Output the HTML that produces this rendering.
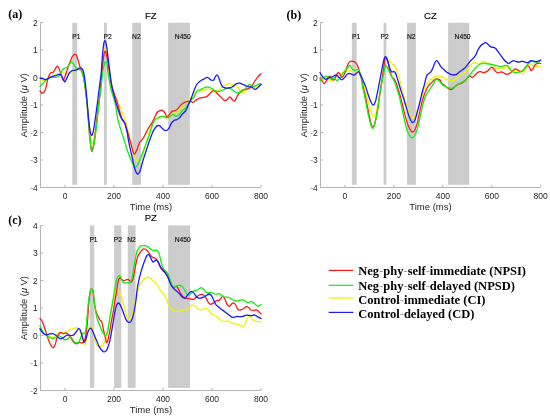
<!DOCTYPE html>
<html><head><meta charset="utf-8"><style>
html,body{margin:0;padding:0;background:#fff;}
body{width:550px;height:420px;overflow:hidden;}
svg{display:block;}
.tk{font-family:"Liberation Sans",Arial,sans-serif;font-size:8.5px;fill:#262626;}
.bl{font-family:"Liberation Sans",Arial,sans-serif;font-size:6.7px;fill:#111;stroke:#111;stroke-width:0.15px;}
.mn{fill:#8a8a8a;}
.ti{font-family:"Liberation Sans",Arial,sans-serif;font-size:9.6px;fill:#000;stroke:#000;stroke-width:0.1px;}
.al{font-family:"Liberation Sans",Arial,sans-serif;font-size:9px;fill:#262626;}
.pl{font-family:"Liberation Serif","Times New Roman",serif;font-size:12px;font-weight:bold;fill:#000;}
.lg{font-family:"Liberation Serif","Times New Roman",serif;font-size:12.5px;font-weight:bold;fill:#000;}
.hy{font-weight:normal;fill:#9a9a9a;}
</style></head><body>
<svg width="550" height="420" viewBox="0 0 550 420">
<rect width="550" height="420" fill="#fff"/>
<rect x="72.3" y="22.8" width="4.9" height="162" fill="#cccccc"/>
<rect x="104" y="22.8" width="2.8" height="162" fill="#cccccc"/>
<rect x="132.3" y="22.8" width="8.7" height="162" fill="#cccccc"/>
<rect x="168.1" y="22.8" width="21.7" height="162" fill="#cccccc"/>
<rect x="351.9" y="22.8" width="4.8" height="162" fill="#cccccc"/>
<rect x="383.6" y="22.8" width="2.7" height="162" fill="#cccccc"/>
<rect x="406.9" y="22.8" width="9" height="162" fill="#cccccc"/>
<rect x="448.1" y="22.8" width="21.2" height="162" fill="#cccccc"/>
<rect x="89.9" y="225.4" width="4.4" height="162.5" fill="#cccccc"/>
<rect x="114.2" y="225.4" width="7.1" height="162.5" fill="#cccccc"/>
<rect x="127.8" y="225.4" width="7.8" height="162.5" fill="#cccccc"/>
<rect x="168.1" y="225.4" width="22" height="162.5" fill="#cccccc"/>
<text x="72.3" y="39.2" class="bl">P1</text>
<text x="103.5" y="39.2" class="bl">P2</text>
<text x="132.1" y="39.2" class="bl">N2</text>
<text x="174.8" y="39.2" class="bl">N450</text>
<text x="352" y="39.2" class="bl">P1</text>
<text x="380.6" y="39.2" class="bl">P2</text>
<text x="407" y="39.2" class="bl">N2</text>
<text x="454.6" y="39.2" class="bl">N450</text>
<text x="89.4" y="241.7" class="bl">P1</text>
<text x="113.7" y="241.7" class="bl">P2</text>
<text x="127.2" y="241.7" class="bl">N2</text>
<text x="174.7" y="241.7" class="bl">N450</text>
<rect x="40" y="22.5" width="1" height="165.5" fill="#b4b4b4"/>
<rect x="40" y="187" width="221" height="1" fill="#b4b4b4"/>
<rect x="41" y="22" width="2.2" height="1" fill="#b4b4b4"/>
<text x="37.8" y="25.6" text-anchor="end" class="tk">2</text>
<rect x="41" y="49.5" width="2.2" height="1" fill="#b4b4b4"/>
<text x="37.8" y="53.1" text-anchor="end" class="tk">1</text>
<rect x="41" y="77" width="2.2" height="1" fill="#b4b4b4"/>
<text x="37.8" y="80.6" text-anchor="end" class="tk">0</text>
<rect x="41" y="104.5" width="2.2" height="1" fill="#b4b4b4"/>
<text x="37.8" y="108.1" text-anchor="end" class="tk"><tspan class="mn">-</tspan>1</text>
<rect x="41" y="132" width="2.2" height="1" fill="#b4b4b4"/>
<text x="37.8" y="135.6" text-anchor="end" class="tk"><tspan class="mn">-</tspan>2</text>
<rect x="41" y="159.5" width="2.2" height="1" fill="#b4b4b4"/>
<text x="37.8" y="163.1" text-anchor="end" class="tk"><tspan class="mn">-</tspan>3</text>
<rect x="41" y="187" width="2.2" height="1" fill="#b4b4b4"/>
<text x="37.8" y="190.6" text-anchor="end" class="tk"><tspan class="mn">-</tspan>4</text>
<rect x="64.5" y="184.8" width="1" height="2.2" fill="#b4b4b4"/>
<text x="65" y="198.6" text-anchor="middle" class="tk">0</text>
<rect x="113.5" y="184.8" width="1" height="2.2" fill="#b4b4b4"/>
<text x="114" y="198.6" text-anchor="middle" class="tk">200</text>
<rect x="162.5" y="184.8" width="1" height="2.2" fill="#b4b4b4"/>
<text x="163" y="198.6" text-anchor="middle" class="tk">400</text>
<rect x="211.5" y="184.8" width="1" height="2.2" fill="#b4b4b4"/>
<text x="212" y="198.6" text-anchor="middle" class="tk">600</text>
<rect x="260.5" y="184.8" width="1" height="2.2" fill="#b4b4b4"/>
<text x="261" y="198.6" text-anchor="middle" class="tk">800</text>
<rect x="320" y="22.5" width="1" height="165.5" fill="#b4b4b4"/>
<rect x="320" y="187" width="220.5" height="1" fill="#b4b4b4"/>
<rect x="321" y="22" width="2.2" height="1" fill="#b4b4b4"/>
<text x="317.8" y="25.6" text-anchor="end" class="tk">2</text>
<rect x="321" y="49.5" width="2.2" height="1" fill="#b4b4b4"/>
<text x="317.8" y="53.1" text-anchor="end" class="tk">1</text>
<rect x="321" y="77" width="2.2" height="1" fill="#b4b4b4"/>
<text x="317.8" y="80.6" text-anchor="end" class="tk">0</text>
<rect x="321" y="104.5" width="2.2" height="1" fill="#b4b4b4"/>
<text x="317.8" y="108.1" text-anchor="end" class="tk"><tspan class="mn">-</tspan>1</text>
<rect x="321" y="132" width="2.2" height="1" fill="#b4b4b4"/>
<text x="317.8" y="135.6" text-anchor="end" class="tk"><tspan class="mn">-</tspan>2</text>
<rect x="321" y="159.5" width="2.2" height="1" fill="#b4b4b4"/>
<text x="317.8" y="163.1" text-anchor="end" class="tk"><tspan class="mn">-</tspan>3</text>
<rect x="321" y="187" width="2.2" height="1" fill="#b4b4b4"/>
<text x="317.8" y="190.6" text-anchor="end" class="tk"><tspan class="mn">-</tspan>4</text>
<rect x="344.467" y="184.8" width="1" height="2.2" fill="#b4b4b4"/>
<text x="344.967" y="198.6" text-anchor="middle" class="tk">0</text>
<rect x="393.4" y="184.8" width="1" height="2.2" fill="#b4b4b4"/>
<text x="393.9" y="198.6" text-anchor="middle" class="tk">200</text>
<rect x="442.333" y="184.8" width="1" height="2.2" fill="#b4b4b4"/>
<text x="442.833" y="198.6" text-anchor="middle" class="tk">400</text>
<rect x="491.267" y="184.8" width="1" height="2.2" fill="#b4b4b4"/>
<text x="491.767" y="198.6" text-anchor="middle" class="tk">600</text>
<rect x="540.2" y="184.8" width="1" height="2.2" fill="#b4b4b4"/>
<text x="540.7" y="198.6" text-anchor="middle" class="tk">800</text>
<rect x="40" y="225.4" width="1" height="165.6" fill="#b4b4b4"/>
<rect x="40" y="390" width="221" height="1" fill="#b4b4b4"/>
<rect x="41" y="225" width="2.2" height="1" fill="#b4b4b4"/>
<text x="37.8" y="228.6" text-anchor="end" class="tk">4</text>
<rect x="41" y="252.5" width="2.2" height="1" fill="#b4b4b4"/>
<text x="37.8" y="256.1" text-anchor="end" class="tk">3</text>
<rect x="41" y="280" width="2.2" height="1" fill="#b4b4b4"/>
<text x="37.8" y="283.6" text-anchor="end" class="tk">2</text>
<rect x="41" y="307.5" width="2.2" height="1" fill="#b4b4b4"/>
<text x="37.8" y="311.1" text-anchor="end" class="tk">1</text>
<rect x="41" y="335" width="2.2" height="1" fill="#b4b4b4"/>
<text x="37.8" y="338.6" text-anchor="end" class="tk">0</text>
<rect x="41" y="362.5" width="2.2" height="1" fill="#b4b4b4"/>
<text x="37.8" y="366.1" text-anchor="end" class="tk"><tspan class="mn">-</tspan>1</text>
<rect x="41" y="390" width="2.2" height="1" fill="#b4b4b4"/>
<text x="37.8" y="393.6" text-anchor="end" class="tk"><tspan class="mn">-</tspan>2</text>
<rect x="64.5" y="387.8" width="1" height="2.2" fill="#b4b4b4"/>
<text x="65" y="401.6" text-anchor="middle" class="tk">0</text>
<rect x="113.5" y="387.8" width="1" height="2.2" fill="#b4b4b4"/>
<text x="114" y="401.6" text-anchor="middle" class="tk">200</text>
<rect x="162.5" y="387.8" width="1" height="2.2" fill="#b4b4b4"/>
<text x="163" y="401.6" text-anchor="middle" class="tk">400</text>
<rect x="211.5" y="387.8" width="1" height="2.2" fill="#b4b4b4"/>
<text x="212" y="401.6" text-anchor="middle" class="tk">600</text>
<rect x="260.5" y="387.8" width="1" height="2.2" fill="#b4b4b4"/>
<text x="261" y="401.6" text-anchor="middle" class="tk">800</text>
<g fill="none" stroke-width="1.3" stroke-linejoin="round" stroke-linecap="round"><path d="M40.00 80.90 C40.90 80.75 43.62 80.68 45.40 80.00 C47.18 79.32 48.92 77.75 50.70 76.80 C52.48 75.85 54.32 74.95 56.10 74.30 C57.88 73.65 59.62 72.99 61.40 72.90 C63.18 72.81 65.02 73.82 66.80 73.75 C68.58 73.68 70.62 73.09 72.10 72.50 C73.58 71.91 74.50 70.68 75.70 70.20 C76.90 69.72 78.25 69.30 79.30 69.60 C80.35 69.90 81.26 70.72 82.00 72.00 C82.74 73.28 83.17 74.63 83.75 77.30 C84.33 79.97 84.91 83.72 85.50 88.00 C86.09 92.28 86.68 96.83 87.30 103.00 C87.92 109.17 88.58 118.83 89.20 125.00 C89.82 131.17 90.52 136.85 91.00 140.00 C91.48 143.15 91.68 143.73 92.10 143.90 C92.52 144.07 92.93 143.65 93.50 141.00 C94.07 138.35 94.83 133.17 95.50 128.00 C96.17 122.83 96.83 116.00 97.50 110.00 C98.17 104.00 98.83 97.83 99.50 92.00 C100.17 86.17 100.88 80.67 101.50 75.00 C102.12 69.33 102.70 62.17 103.20 58.00 C103.70 53.83 104.15 51.60 104.50 50.00 C104.85 48.40 104.97 48.23 105.30 48.40 C105.63 48.57 106.05 48.73 106.50 51.00 C106.95 53.27 107.57 58.15 108.00 62.00 C108.43 65.85 108.60 70.43 109.10 74.10 C109.60 77.77 110.35 81.15 111.00 84.00 C111.65 86.85 112.03 88.40 113.00 91.20 C113.97 94.00 115.53 97.93 116.80 100.80 C118.07 103.67 119.50 105.87 120.60 108.40 C121.70 110.93 122.52 113.77 123.40 116.00 C124.28 118.23 125.03 119.05 125.90 121.80 C126.77 124.55 127.57 128.33 128.60 132.50 C129.63 136.67 130.92 142.33 132.10 146.80 C133.28 151.27 134.80 156.83 135.70 159.30 C136.60 161.77 136.75 161.67 137.50 161.60 C138.25 161.53 139.30 160.23 140.20 158.90 C141.10 157.57 142.02 155.98 142.90 153.60 C143.78 151.22 144.62 147.58 145.50 144.60 C146.38 141.62 147.30 138.52 148.20 135.70 C149.10 132.88 150.00 130.08 150.90 127.70 C151.80 125.32 152.71 122.89 153.60 121.40 C154.49 119.91 155.37 119.48 156.25 118.75 C157.13 118.02 157.86 117.44 158.90 117.00 C159.94 116.56 161.30 115.95 162.50 116.10 C163.70 116.25 165.06 117.75 166.10 117.90 C167.14 118.05 167.87 117.60 168.75 117.00 C169.63 116.40 170.36 115.00 171.40 114.30 C172.44 113.60 173.80 113.45 175.00 112.80 C176.20 112.15 177.37 111.50 178.60 110.40 C179.83 109.30 181.43 107.33 182.40 106.20 C183.37 105.07 183.62 104.60 184.40 103.60 C185.18 102.60 186.17 101.03 187.10 100.20 C188.03 99.37 189.00 99.38 190.00 98.60 C191.00 97.82 191.98 96.82 193.10 95.50 C194.22 94.18 195.50 91.65 196.70 90.70 C197.90 89.75 199.10 89.85 200.30 89.80 C201.50 89.75 202.72 90.55 203.90 90.40 C205.08 90.25 206.22 89.00 207.40 88.90 C208.58 88.80 209.80 89.35 211.00 89.80 C212.20 90.25 213.42 91.45 214.60 91.60 C215.78 91.75 216.92 91.45 218.10 90.70 C219.28 89.95 220.50 87.98 221.70 87.10 C222.90 86.22 224.10 85.98 225.30 85.40 C226.50 84.82 227.87 83.75 228.90 83.60 C229.93 83.45 230.62 84.20 231.50 84.50 C232.38 84.80 233.15 84.97 234.20 85.40 C235.25 85.83 236.75 86.07 237.80 87.10 C238.85 88.13 239.62 90.63 240.50 91.60 C241.38 92.57 242.22 93.05 243.10 92.90 C243.98 92.75 244.75 91.52 245.80 90.70 C246.85 89.88 248.20 88.65 249.40 88.00 C250.60 87.35 251.82 87.09 253.00 86.80 C254.18 86.51 255.47 86.48 256.50 86.25 C257.53 86.02 258.45 85.61 259.20 85.40 C259.95 85.19 260.70 85.07 261.00 85.00" stroke="#f2f200" />
<path d="M40.00 91.00 C40.38 91.38 41.40 93.55 42.30 93.30 C43.20 93.05 44.45 92.02 45.40 89.50 C46.35 86.98 47.12 80.97 48.00 78.20 C48.88 75.43 49.80 73.93 50.70 72.90 C51.60 71.87 52.50 72.90 53.40 72.00 C54.30 71.10 55.35 68.40 56.10 67.50 C56.85 66.60 57.32 66.15 57.90 66.60 C58.48 67.05 59.02 68.72 59.60 70.20 C60.18 71.68 60.80 73.82 61.40 75.50 C62.00 77.18 62.60 80.13 63.20 80.30 C63.80 80.47 64.40 78.03 65.00 76.50 C65.60 74.97 66.20 72.90 66.80 71.10 C67.40 69.30 68.00 67.33 68.60 65.70 C69.20 64.07 69.82 62.78 70.40 61.30 C70.98 59.82 71.37 58.00 72.10 56.80 C72.83 55.60 74.05 54.25 74.80 54.10 C75.55 53.95 76.00 54.70 76.60 55.90 C77.20 57.10 77.80 59.37 78.40 61.30 C79.00 63.23 79.60 65.72 80.20 67.50 C80.80 69.28 81.41 70.22 82.00 72.00 C82.59 73.78 83.17 75.20 83.75 78.20 C84.33 81.20 84.91 85.37 85.50 90.00 C86.09 94.63 86.80 100.67 87.30 106.00 C87.80 111.33 88.12 117.00 88.50 122.00 C88.88 127.00 89.22 132.00 89.60 136.00 C89.98 140.00 90.40 143.50 90.80 146.00 C91.20 148.50 91.42 151.77 92.00 151.00 C92.58 150.23 93.57 145.97 94.30 141.40 C95.03 136.83 95.60 130.15 96.40 123.60 C97.20 117.05 98.45 107.37 99.10 102.10 C99.75 96.83 99.90 96.02 100.30 92.00 C100.70 87.98 101.05 83.00 101.50 78.00 C101.95 73.00 102.55 66.08 103.00 62.00 C103.45 57.92 103.85 55.30 104.20 53.50 C104.55 51.70 104.78 51.28 105.10 51.20 C105.42 51.12 105.70 51.53 106.10 53.00 C106.50 54.47 106.97 56.83 107.50 60.00 C108.03 63.17 108.72 68.33 109.30 72.00 C109.88 75.67 110.38 79.00 111.00 82.00 C111.62 85.00 112.35 87.75 113.00 90.00 C113.65 92.25 114.27 93.70 114.90 95.50 C115.53 97.30 116.02 98.22 116.80 100.80 C117.58 103.38 118.68 107.80 119.60 111.00 C120.52 114.20 121.40 117.90 122.30 120.00 C123.20 122.10 124.10 121.52 125.00 123.60 C125.90 125.68 126.66 128.93 127.70 132.50 C128.74 136.07 130.22 141.43 131.25 145.00 C132.28 148.57 133.01 153.00 133.90 153.90 C134.79 154.80 135.70 152.18 136.60 150.40 C137.50 148.62 138.25 145.17 139.30 143.20 C140.35 141.23 141.87 140.15 142.90 138.60 C143.93 137.05 144.62 135.57 145.50 133.90 C146.38 132.23 147.15 130.38 148.20 128.60 C149.25 126.82 150.75 124.98 151.80 123.20 C152.85 121.42 153.62 119.68 154.50 117.90 C155.38 116.12 156.22 113.70 157.10 112.50 C157.98 111.30 158.90 111.05 159.80 110.70 C160.70 110.35 161.60 109.95 162.50 110.40 C163.40 110.85 164.45 112.30 165.20 113.40 C165.95 114.50 166.27 116.85 167.00 117.00 C167.73 117.15 168.72 115.28 169.60 114.30 C170.48 113.32 171.40 111.70 172.30 111.10 C173.20 110.50 174.10 111.07 175.00 110.70 C175.90 110.33 176.80 109.78 177.70 108.90 C178.60 108.02 179.37 106.43 180.40 105.40 C181.43 104.37 182.72 103.37 183.90 102.70 C185.08 102.03 186.32 101.60 187.50 101.40 C188.68 101.20 190.07 101.35 191.00 101.50 C191.93 101.65 192.15 102.62 193.10 102.30 C194.05 101.98 195.50 100.33 196.70 99.60 C197.90 98.87 199.10 98.25 200.30 97.90 C201.50 97.55 202.72 97.80 203.90 97.50 C205.08 97.20 206.22 96.93 207.40 96.10 C208.58 95.27 209.95 93.40 211.00 92.50 C212.05 91.60 212.80 90.70 213.70 90.70 C214.60 90.70 215.52 91.75 216.40 92.50 C217.28 93.25 218.12 94.30 219.00 95.20 C219.88 96.10 220.80 97.02 221.70 97.90 C222.60 98.78 223.50 100.22 224.40 100.50 C225.30 100.78 226.21 100.18 227.10 99.60 C227.99 99.02 228.87 97.00 229.75 97.00 C230.63 97.00 231.59 98.92 232.40 99.60 C233.21 100.28 233.85 101.53 234.60 101.10 C235.35 100.67 236.30 98.10 236.90 97.00 C237.50 95.90 237.48 95.47 238.20 94.50 C238.92 93.53 240.17 92.02 241.20 91.20 C242.23 90.38 243.23 90.03 244.40 89.60 C245.57 89.17 247.03 89.07 248.20 88.60 C249.37 88.13 250.33 87.98 251.40 86.80 C252.47 85.62 253.53 83.17 254.60 81.50 C255.67 79.83 256.73 78.12 257.80 76.80 C258.87 75.48 260.47 74.13 261.00 73.60" stroke="#ff1a1a" />
<path d="M40.00 86.25 C40.60 85.66 42.42 83.89 43.60 82.70 C44.78 81.51 45.92 80.00 47.10 79.10 C48.28 78.20 49.50 77.60 50.70 77.30 C51.90 77.00 53.10 77.38 54.30 77.30 C55.50 77.22 56.87 77.39 57.90 76.80 C58.93 76.21 59.77 74.85 60.50 73.75 C61.23 72.65 61.70 71.09 62.30 70.20 C62.90 69.31 63.35 68.85 64.10 68.40 C64.85 67.95 66.05 67.95 66.80 67.50 C67.55 67.05 68.00 66.45 68.60 65.70 C69.20 64.95 69.87 63.60 70.40 63.00 C70.93 62.40 71.22 61.80 71.80 62.10 C72.38 62.40 73.25 63.90 73.90 64.80 C74.55 65.70 74.95 66.90 75.70 67.50 C76.45 68.10 77.50 67.95 78.40 68.40 C79.30 68.85 80.35 69.17 81.10 70.20 C81.85 71.23 82.32 72.37 82.90 74.60 C83.48 76.83 84.02 79.72 84.60 83.60 C85.18 87.48 85.77 92.00 86.40 97.90 C87.03 103.80 87.77 111.98 88.40 119.00 C89.03 126.02 89.58 134.60 90.20 140.00 C90.82 145.40 91.32 151.63 92.10 151.40 C92.88 151.17 94.08 143.60 94.90 138.60 C95.72 133.60 96.30 127.48 97.00 121.40 C97.70 115.32 98.38 108.17 99.10 102.10 C99.82 96.03 100.68 90.02 101.30 85.00 C101.92 79.98 102.30 75.50 102.80 72.00 C103.30 68.50 103.82 65.72 104.30 64.00 C104.78 62.28 105.25 61.70 105.70 61.70 C106.15 61.70 106.58 61.93 107.00 64.00 C107.42 66.07 107.53 69.88 108.20 74.10 C108.87 78.32 110.05 85.17 111.00 89.30 C111.95 93.43 113.10 96.03 113.90 98.90 C114.70 101.77 115.18 103.32 115.80 106.50 C116.42 109.68 116.82 114.27 117.60 118.00 C118.38 121.73 119.57 125.73 120.50 128.90 C121.43 132.07 122.30 134.15 123.20 137.00 C124.10 139.85 125.00 143.17 125.90 146.00 C126.80 148.83 127.67 151.50 128.60 154.00 C129.53 156.50 130.52 158.92 131.50 161.00 C132.48 163.08 133.67 165.58 134.50 166.50 C135.33 167.42 135.85 167.02 136.50 166.50 C137.15 165.98 137.63 164.97 138.40 163.40 C139.17 161.83 140.21 159.33 141.10 157.10 C141.99 154.87 142.87 152.37 143.75 150.00 C144.63 147.63 145.51 145.28 146.40 142.90 C147.29 140.52 148.20 138.38 149.10 135.70 C150.00 133.02 150.90 129.33 151.80 126.80 C152.70 124.27 153.47 121.98 154.50 120.50 C155.53 119.02 156.82 118.58 158.00 117.90 C159.18 117.22 160.40 116.55 161.60 116.40 C162.80 116.25 164.15 116.75 165.20 117.00 C166.25 117.25 167.02 118.05 167.90 117.90 C168.78 117.75 169.62 116.70 170.50 116.10 C171.38 115.50 172.30 114.25 173.20 114.30 C174.10 114.35 174.85 116.37 175.90 116.40 C176.95 116.43 178.42 115.50 179.50 114.50 C180.58 113.50 181.57 111.28 182.40 110.40 C183.23 109.52 183.83 109.73 184.50 109.20 C185.17 108.67 185.65 108.22 186.40 107.20 C187.15 106.18 188.08 104.50 189.00 103.10 C189.92 101.70 191.07 99.73 191.90 98.80 C192.73 97.87 193.20 98.70 194.00 97.50 C194.80 96.30 195.65 92.88 196.70 91.60 C197.75 90.32 199.10 90.40 200.30 89.80 C201.50 89.20 202.72 88.50 203.90 88.00 C205.08 87.50 206.22 86.80 207.40 86.80 C208.58 86.80 209.80 87.35 211.00 88.00 C212.20 88.65 213.42 90.10 214.60 90.70 C215.78 91.30 216.92 91.60 218.10 91.60 C219.28 91.60 220.50 91.15 221.70 90.70 C222.90 90.25 224.10 89.35 225.30 88.90 C226.50 88.45 227.72 87.85 228.90 88.00 C230.08 88.15 231.22 89.05 232.40 89.80 C233.58 90.55 234.80 92.05 236.00 92.50 C237.20 92.95 238.42 92.80 239.60 92.50 C240.78 92.20 241.92 91.60 243.10 90.70 C244.28 89.80 245.65 88.13 246.70 87.10 C247.75 86.07 248.52 84.64 249.40 84.50 C250.28 84.36 251.11 85.96 252.00 86.25 C252.89 86.54 253.85 86.54 254.75 86.25 C255.65 85.96 256.36 84.94 257.40 84.50 C258.44 84.06 260.40 83.75 261.00 83.60" stroke="#12ee12" />
<path d="M40.00 78.20 C40.45 78.27 41.80 78.37 42.70 78.60 C43.60 78.83 44.37 79.67 45.40 79.60 C46.43 79.53 47.72 78.73 48.90 78.20 C50.08 77.67 51.30 76.85 52.50 76.40 C53.70 75.95 54.92 75.85 56.10 75.50 C57.28 75.15 58.72 74.30 59.60 74.30 C60.48 74.30 60.80 74.70 61.40 75.50 C62.00 76.30 62.68 78.05 63.20 79.10 C63.72 80.15 64.05 81.65 64.50 81.80 C64.95 81.95 65.37 80.90 65.90 80.00 C66.43 79.10 67.10 77.58 67.70 76.40 C68.30 75.22 68.77 73.85 69.50 72.90 C70.23 71.95 71.07 71.15 72.10 70.70 C73.13 70.25 74.65 70.50 75.70 70.20 C76.75 69.90 77.57 69.28 78.40 68.90 C79.23 68.52 80.02 67.83 80.70 67.90 C81.38 67.97 81.99 68.45 82.50 69.30 C83.01 70.15 83.30 70.88 83.75 73.00 C84.20 75.12 84.74 78.33 85.20 82.00 C85.66 85.67 86.10 90.67 86.50 95.00 C86.90 99.33 87.22 103.67 87.60 108.00 C87.98 112.33 88.38 117.17 88.80 121.00 C89.22 124.83 89.63 128.60 90.10 131.00 C90.57 133.40 91.10 135.22 91.60 135.40 C92.10 135.58 92.55 134.43 93.10 132.10 C93.65 129.77 94.25 125.68 94.90 121.40 C95.55 117.12 96.30 111.75 97.00 106.40 C97.70 101.05 98.42 94.68 99.10 89.30 C99.78 83.92 100.53 79.82 101.10 74.10 C101.67 68.38 102.05 60.08 102.50 55.00 C102.95 49.92 103.38 45.97 103.80 43.60 C104.22 41.23 104.55 40.48 105.00 40.80 C105.45 41.12 105.97 42.48 106.50 45.50 C107.03 48.52 107.60 54.13 108.20 58.90 C108.80 63.67 109.47 69.35 110.10 74.10 C110.73 78.85 111.20 83.27 112.00 87.40 C112.80 91.53 113.95 95.40 114.90 98.90 C115.85 102.40 116.93 105.88 117.70 108.40 C118.47 110.92 118.88 112.37 119.50 114.00 C120.12 115.63 120.63 116.90 121.40 118.20 C122.17 119.50 123.20 119.72 124.10 121.80 C125.00 123.88 126.05 127.48 126.80 130.70 C127.55 133.92 127.98 137.88 128.60 141.10 C129.22 144.32 129.92 147.33 130.50 150.00 C131.08 152.67 131.38 153.97 132.10 157.10 C132.82 160.22 133.90 165.92 134.80 168.75 C135.70 171.58 136.60 173.81 137.50 174.10 C138.40 174.39 139.30 172.73 140.20 170.50 C141.10 168.27 141.87 164.12 142.90 160.70 C143.93 157.28 145.22 153.57 146.40 150.00 C147.58 146.43 148.80 142.57 150.00 139.30 C151.20 136.03 152.42 132.63 153.60 130.40 C154.78 128.17 156.07 126.65 157.10 125.90 C158.13 125.15 158.90 125.45 159.80 125.90 C160.70 126.35 161.52 127.80 162.50 128.60 C163.48 129.40 164.66 130.70 165.70 130.70 C166.74 130.70 167.80 129.85 168.75 128.60 C169.70 127.35 170.51 124.55 171.40 123.20 C172.29 121.85 173.20 121.10 174.10 120.50 C175.00 119.90 175.90 120.03 176.80 119.60 C177.70 119.17 178.62 118.78 179.50 117.90 C180.38 117.02 181.07 115.50 182.10 114.30 C183.13 113.10 184.60 112.40 185.70 110.70 C186.80 109.00 187.75 106.23 188.70 104.10 C189.65 101.97 190.52 100.13 191.40 97.90 C192.28 95.67 193.12 92.93 194.00 90.70 C194.88 88.47 195.65 86.13 196.70 84.50 C197.75 82.87 199.10 81.80 200.30 80.90 C201.50 80.00 202.72 79.70 203.90 79.10 C205.08 78.50 206.22 77.15 207.40 77.30 C208.58 77.45 209.95 79.55 211.00 80.00 C212.05 80.45 212.95 80.60 213.70 80.00 C214.45 79.40 214.91 77.23 215.50 76.40 C216.09 75.57 216.67 74.70 217.25 75.00 C217.83 75.30 218.41 76.77 219.00 78.20 C219.59 79.63 220.20 82.17 220.80 83.60 C221.40 85.03 221.85 86.07 222.60 86.80 C223.35 87.53 224.25 87.80 225.30 88.00 C226.35 88.20 227.72 88.20 228.90 88.00 C230.08 87.80 231.22 87.48 232.40 86.80 C233.58 86.12 234.80 84.50 236.00 83.90 C237.20 83.30 238.42 83.10 239.60 83.20 C240.78 83.30 241.92 83.99 243.10 84.50 C244.28 85.01 245.65 85.87 246.70 86.25 C247.75 86.63 248.52 86.66 249.40 86.80 C250.28 86.94 251.11 86.68 252.00 87.10 C252.89 87.52 253.85 89.15 254.75 89.30 C255.65 89.45 256.36 88.80 257.40 88.00 C258.44 87.20 260.40 85.08 261.00 84.50" stroke="#1a1aff" /></g>
<g fill="none" stroke-width="1.3" stroke-linejoin="round" stroke-linecap="round"><path d="M320.00 79.30 C320.47 79.45 321.87 80.28 322.80 80.20 C323.73 80.12 324.65 78.95 325.60 78.80 C326.55 78.65 327.55 78.98 328.50 79.30 C329.45 79.62 330.35 80.78 331.30 80.70 C332.25 80.62 333.08 79.58 334.20 78.80 C335.32 78.02 336.73 76.95 338.00 76.00 C339.27 75.05 340.53 73.90 341.80 73.10 C343.07 72.30 344.33 71.60 345.60 71.20 C346.87 70.80 348.13 70.62 349.40 70.70 C350.67 70.78 352.08 71.47 353.20 71.70 C354.32 71.93 355.13 72.10 356.10 72.10 C357.07 72.10 358.13 70.90 359.00 71.70 C359.87 72.50 360.63 75.18 361.30 76.90 C361.97 78.62 362.38 79.82 363.00 82.00 C363.62 84.18 364.03 86.45 365.00 90.00 C365.97 93.55 367.68 99.48 368.80 103.30 C369.92 107.12 370.90 110.67 371.70 112.90 C372.50 115.13 372.88 116.70 373.60 116.70 C374.32 116.70 375.05 116.40 376.00 112.90 C376.95 109.40 378.28 101.42 379.30 95.70 C380.32 89.98 381.32 83.68 382.10 78.60 C382.88 73.52 383.35 68.38 384.00 65.20 C384.65 62.02 385.20 60.28 386.00 59.50 C386.80 58.72 387.85 59.87 388.80 60.50 C389.75 61.13 390.92 62.55 391.70 63.30 C392.48 64.05 392.95 64.37 393.50 65.00 C394.05 65.63 394.40 66.03 395.00 67.10 C395.60 68.17 396.38 69.60 397.10 71.40 C397.82 73.20 398.58 75.40 399.30 77.90 C400.02 80.40 400.68 83.55 401.40 86.40 C402.12 89.25 402.88 92.40 403.60 95.00 C404.32 97.60 405.02 99.85 405.70 102.00 C406.38 104.15 406.92 105.58 407.70 107.90 C408.48 110.22 409.60 114.12 410.40 115.90 C411.20 117.68 411.77 118.45 412.50 118.60 C413.23 118.75 413.97 118.30 414.80 116.80 C415.63 115.30 416.55 112.07 417.50 109.60 C418.45 107.13 419.67 104.60 420.50 102.00 C421.33 99.40 421.87 96.17 422.50 94.00 C423.13 91.83 423.65 90.50 424.30 89.00 C424.95 87.50 425.57 86.38 426.40 85.00 C427.23 83.62 428.35 81.77 429.30 80.70 C430.25 79.63 431.15 79.28 432.10 78.60 C433.05 77.92 434.03 77.05 435.00 76.60 C435.97 76.15 436.95 75.93 437.90 75.90 C438.85 75.87 439.75 76.07 440.70 76.40 C441.65 76.73 442.65 77.42 443.60 77.90 C444.55 78.38 445.45 78.90 446.40 79.30 C447.35 79.70 448.15 80.07 449.30 80.30 C450.45 80.53 452.00 81.10 453.30 80.70 C454.60 80.30 455.82 78.97 457.10 77.90 C458.38 76.83 459.93 75.12 461.00 74.30 C462.07 73.48 462.72 73.43 463.50 73.00 C464.28 72.57 464.85 72.48 465.70 71.70 C466.55 70.92 467.65 69.50 468.60 68.30 C469.55 67.10 470.53 65.53 471.40 64.50 C472.27 63.47 473.00 62.33 473.80 62.10 C474.60 61.87 475.33 62.78 476.20 63.10 C477.07 63.42 478.05 64.17 479.00 64.00 C479.95 63.83 480.93 62.55 481.90 62.10 C482.87 61.65 483.93 61.13 484.80 61.30 C485.67 61.47 486.23 62.72 487.10 63.10 C487.97 63.48 489.03 63.22 490.00 63.60 C490.97 63.98 491.95 64.68 492.90 65.40 C493.85 66.12 494.75 67.32 495.70 67.90 C496.65 68.48 497.65 68.73 498.60 68.90 C499.55 69.07 500.45 69.07 501.40 68.90 C502.35 68.73 503.47 68.32 504.30 67.90 C505.13 67.48 505.68 66.28 506.40 66.40 C507.12 66.52 507.88 67.88 508.60 68.60 C509.32 69.32 509.87 70.42 510.70 70.70 C511.53 70.98 512.65 70.42 513.60 70.30 C514.55 70.18 515.45 69.82 516.40 70.00 C517.35 70.18 518.38 70.80 519.30 71.40 C520.22 72.00 521.18 73.35 521.90 73.60 C522.62 73.85 522.97 73.62 523.60 72.90 C524.23 72.18 524.98 70.62 525.70 69.30 C526.42 67.98 527.18 65.95 527.90 65.00 C528.62 64.05 529.30 63.60 530.00 63.60 C530.70 63.60 531.38 64.53 532.10 65.00 C532.82 65.47 533.58 66.17 534.30 66.40 C535.02 66.63 535.68 66.32 536.40 66.40 C537.12 66.48 537.88 66.78 538.60 66.90 C539.32 67.02 540.35 67.07 540.70 67.10" stroke="#f2f200" />
<path d="M320.00 78.30 C320.38 78.78 321.60 80.32 322.30 81.20 C323.00 82.08 323.48 83.68 324.20 83.60 C324.92 83.52 325.73 81.90 326.60 80.70 C327.47 79.50 328.62 76.87 329.40 76.40 C330.18 75.93 330.58 77.27 331.30 77.90 C332.02 78.53 332.90 80.52 333.70 80.20 C334.50 79.88 335.38 77.27 336.10 76.00 C336.82 74.73 337.37 72.93 338.00 72.60 C338.63 72.27 339.27 73.20 339.90 74.00 C340.53 74.80 341.17 77.15 341.80 77.40 C342.43 77.65 343.07 76.53 343.70 75.50 C344.33 74.47 344.97 72.87 345.60 71.20 C346.23 69.53 346.87 67.02 347.50 65.50 C348.13 63.98 348.68 62.82 349.40 62.10 C350.12 61.38 351.00 61.27 351.80 61.20 C352.60 61.13 353.48 61.38 354.20 61.70 C354.92 62.02 355.55 62.47 356.10 63.10 C356.65 63.73 357.02 64.32 357.50 65.50 C357.98 66.68 358.52 68.45 359.00 70.20 C359.48 71.95 360.05 74.85 360.40 76.00 C360.75 77.15 360.60 75.10 361.10 77.10 C361.60 79.10 362.67 84.68 363.40 88.00 C364.13 91.32 364.75 93.50 365.50 97.00 C366.25 100.50 367.03 104.77 367.90 109.00 C368.77 113.23 369.92 119.38 370.70 122.40 C371.48 125.42 371.97 126.78 372.60 127.10 C373.23 127.42 373.70 126.98 374.50 124.30 C375.30 121.62 376.45 116.40 377.40 111.00 C378.35 105.60 379.25 98.25 380.20 91.90 C381.15 85.55 382.30 78.30 383.10 72.90 C383.90 67.50 384.47 62.05 385.00 59.50 C385.53 56.95 385.82 57.28 386.30 57.60 C386.78 57.92 387.32 59.17 387.90 61.40 C388.48 63.63 389.10 68.40 389.80 71.00 C390.50 73.60 391.35 75.62 392.10 77.00 C392.85 78.38 393.58 78.20 394.30 79.30 C395.02 80.40 395.68 81.70 396.40 83.60 C397.12 85.50 397.88 88.32 398.60 90.70 C399.32 93.08 399.93 95.03 400.70 97.90 C401.47 100.77 402.33 104.45 403.20 107.90 C404.07 111.35 405.00 115.48 405.90 118.60 C406.80 121.72 407.71 124.52 408.60 126.60 C409.49 128.68 410.60 130.20 411.25 131.10 C411.90 132.00 411.91 132.15 412.50 132.00 C413.09 131.85 413.97 131.85 414.80 130.20 C415.63 128.55 416.60 125.53 417.50 122.10 C418.40 118.67 419.30 113.47 420.20 109.60 C421.10 105.73 422.02 101.92 422.90 98.90 C423.78 95.88 424.55 93.70 425.50 91.50 C426.45 89.30 427.62 87.13 428.60 85.70 C429.58 84.27 430.45 83.85 431.40 82.90 C432.35 81.95 433.47 80.72 434.30 80.00 C435.13 79.28 435.68 78.72 436.40 78.60 C437.12 78.48 438.00 79.07 438.60 79.30 C439.20 79.53 439.42 79.28 440.00 80.00 C440.58 80.72 441.27 82.65 442.10 83.60 C442.93 84.55 444.03 84.92 445.00 85.70 C445.97 86.48 446.95 87.63 447.90 88.30 C448.85 88.97 449.87 89.65 450.70 89.70 C451.53 89.75 452.18 89.15 452.90 88.60 C453.62 88.05 454.17 87.12 455.00 86.40 C455.83 85.68 456.95 84.77 457.90 84.30 C458.85 83.83 459.75 83.97 460.70 83.60 C461.65 83.23 462.60 82.90 463.60 82.10 C464.60 81.30 465.72 79.82 466.70 78.80 C467.68 77.78 468.55 76.23 469.50 76.00 C470.45 75.77 471.45 77.57 472.40 77.40 C473.35 77.23 474.25 75.88 475.20 75.00 C476.15 74.12 477.18 72.65 478.10 72.10 C479.02 71.55 479.78 71.62 480.70 71.70 C481.62 71.78 482.53 72.65 483.60 72.60 C484.67 72.55 486.15 71.95 487.10 71.40 C488.05 70.85 488.58 69.97 489.30 69.30 C490.02 68.63 490.68 67.52 491.40 67.40 C492.12 67.28 492.88 67.93 493.60 68.60 C494.32 69.27 494.98 70.68 495.70 71.40 C496.42 72.12 497.18 72.78 497.90 72.90 C498.62 73.02 499.30 72.23 500.00 72.10 C500.70 71.97 501.27 71.85 502.10 72.10 C502.93 72.35 504.17 73.23 505.00 73.60 C505.83 73.97 506.38 74.30 507.10 74.30 C507.82 74.30 508.58 73.97 509.30 73.60 C510.02 73.23 510.68 72.70 511.40 72.10 C512.12 71.50 512.88 70.53 513.60 70.00 C514.32 69.47 514.98 68.90 515.70 68.90 C516.42 68.90 517.07 69.58 517.90 70.00 C518.73 70.42 519.87 71.28 520.70 71.40 C521.53 71.52 522.18 71.28 522.90 70.70 C523.62 70.12 524.30 68.73 525.00 67.90 C525.70 67.07 526.38 65.83 527.10 65.70 C527.82 65.57 528.65 66.27 529.30 67.10 C529.95 67.93 530.40 70.45 531.00 70.70 C531.60 70.95 532.23 69.55 532.90 68.60 C533.57 67.65 534.30 65.83 535.00 65.00 C535.70 64.17 536.38 63.92 537.10 63.60 C537.82 63.28 538.70 63.10 539.30 63.10 C539.90 63.10 540.47 63.52 540.70 63.60" stroke="#ff1a1a" />
<path d="M320.00 80.70 C320.47 80.30 321.87 79.02 322.80 78.30 C323.73 77.58 324.65 76.55 325.60 76.40 C326.55 76.25 327.55 76.92 328.50 77.40 C329.45 77.88 330.35 79.22 331.30 79.30 C332.25 79.38 333.25 77.67 334.20 77.90 C335.15 78.13 336.05 80.70 337.00 80.70 C337.95 80.70 338.93 79.08 339.90 77.90 C340.87 76.72 341.85 74.88 342.80 73.60 C343.75 72.32 344.73 71.23 345.60 70.20 C346.47 69.17 347.28 68.18 348.00 67.40 C348.72 66.62 349.27 65.35 349.90 65.50 C350.53 65.65 351.17 67.52 351.80 68.30 C352.43 69.08 353.07 69.88 353.70 70.20 C354.33 70.52 354.97 70.35 355.60 70.20 C356.23 70.05 356.93 69.22 357.50 69.30 C358.07 69.38 358.43 69.58 359.00 70.70 C359.57 71.82 360.32 73.45 360.90 76.00 C361.48 78.55 361.82 82.40 362.50 86.00 C363.18 89.60 364.10 93.12 365.00 97.60 C365.90 102.08 366.95 108.45 367.90 112.90 C368.85 117.35 369.92 121.70 370.70 124.30 C371.48 126.90 371.97 128.35 372.60 128.50 C373.23 128.65 373.70 128.12 374.50 125.20 C375.30 122.28 376.45 116.55 377.40 111.00 C378.35 105.45 379.25 97.62 380.20 91.90 C381.15 86.18 382.30 80.83 383.10 76.70 C383.90 72.57 384.52 69.02 385.00 67.10 C385.48 65.18 385.52 64.88 386.00 65.20 C386.48 65.52 387.12 67.40 387.90 69.00 C388.68 70.60 389.87 73.20 390.70 74.80 C391.53 76.40 392.18 77.25 392.90 78.60 C393.62 79.95 394.30 81.12 395.00 82.90 C395.70 84.68 396.38 87.05 397.10 89.30 C397.82 91.55 398.58 93.62 399.30 96.40 C400.02 99.18 400.60 102.30 401.40 106.00 C402.20 109.70 403.20 114.72 404.10 118.60 C405.00 122.48 405.90 126.48 406.80 129.30 C407.70 132.12 408.62 134.07 409.50 135.50 C410.38 136.93 411.22 137.90 412.10 137.90 C412.98 137.90 413.90 137.08 414.80 135.50 C415.70 133.92 416.60 131.52 417.50 128.40 C418.40 125.28 419.30 120.82 420.20 116.80 C421.10 112.78 422.02 107.72 422.90 104.30 C423.78 100.88 424.65 98.27 425.50 96.25 C426.35 94.23 427.13 93.58 428.00 92.20 C428.87 90.83 429.77 89.43 430.70 88.00 C431.63 86.57 432.72 85.05 433.60 83.60 C434.48 82.15 435.27 79.90 436.00 79.30 C436.73 78.70 437.33 79.55 438.00 80.00 C438.67 80.45 439.32 81.25 440.00 82.00 C440.68 82.75 441.27 83.77 442.10 84.50 C442.93 85.23 444.03 85.92 445.00 86.40 C445.97 86.88 446.95 87.08 447.90 87.40 C448.85 87.72 449.87 88.22 450.70 88.30 C451.53 88.38 452.18 88.22 452.90 87.90 C453.62 87.58 454.17 87.00 455.00 86.40 C455.83 85.80 456.95 84.88 457.90 84.30 C458.85 83.72 459.75 83.38 460.70 82.90 C461.65 82.42 462.77 81.88 463.60 81.40 C464.43 80.92 464.87 80.83 465.70 80.00 C466.53 79.17 467.65 77.58 468.60 76.40 C469.55 75.22 470.45 74.08 471.40 72.90 C472.35 71.72 473.35 70.38 474.30 69.30 C475.25 68.22 476.15 67.23 477.10 66.40 C478.05 65.57 479.03 64.85 480.00 64.30 C480.97 63.75 481.95 63.22 482.90 63.10 C483.85 62.98 484.75 63.45 485.70 63.60 C486.65 63.75 487.65 63.88 488.60 64.00 C489.55 64.12 490.57 64.13 491.40 64.30 C492.23 64.47 492.77 64.77 493.60 65.00 C494.43 65.23 495.45 65.47 496.40 65.70 C497.35 65.93 498.35 66.28 499.30 66.40 C500.25 66.52 501.15 66.52 502.10 66.40 C503.05 66.28 504.17 65.87 505.00 65.70 C505.83 65.53 506.38 65.03 507.10 65.40 C507.82 65.77 508.58 67.02 509.30 67.90 C510.02 68.78 510.68 70.00 511.40 70.70 C512.12 71.40 512.77 71.78 513.60 72.10 C514.43 72.42 515.45 72.60 516.40 72.60 C517.35 72.60 518.47 72.30 519.30 72.10 C520.13 71.90 520.68 71.75 521.40 71.40 C522.12 71.05 522.88 70.72 523.60 70.00 C524.32 69.28 524.98 68.05 525.70 67.10 C526.42 66.15 527.18 65.13 527.90 64.30 C528.62 63.47 529.30 62.63 530.00 62.10 C530.70 61.57 531.27 61.10 532.10 61.10 C532.93 61.10 534.03 61.93 535.00 62.10 C535.97 62.27 536.95 62.33 537.90 62.10 C538.85 61.87 540.23 60.93 540.70 60.70" stroke="#12ee12" />
<path d="M320.00 72.60 C320.47 73.32 321.87 75.78 322.80 76.90 C323.73 78.02 324.65 79.13 325.60 79.30 C326.55 79.47 327.38 78.30 328.50 77.90 C329.62 77.50 331.03 77.38 332.30 76.90 C333.57 76.42 334.98 74.92 336.10 75.00 C337.22 75.08 338.05 76.60 339.00 77.40 C339.95 78.20 340.85 79.80 341.80 79.80 C342.75 79.80 343.75 78.37 344.70 77.40 C345.65 76.43 346.55 74.63 347.50 74.00 C348.45 73.37 349.45 73.43 350.40 73.60 C351.35 73.77 352.25 75.00 353.20 75.00 C354.15 75.00 355.22 74.15 356.10 73.60 C356.98 73.05 357.85 71.70 358.50 71.70 C359.15 71.70 359.28 72.25 360.00 73.60 C360.72 74.95 361.87 77.67 362.80 79.80 C363.73 81.93 364.75 84.07 365.60 86.40 C366.45 88.73 367.05 91.30 367.90 93.80 C368.75 96.30 369.85 99.50 370.70 101.40 C371.55 103.30 372.20 105.20 373.00 105.20 C373.80 105.20 374.62 104.25 375.50 101.40 C376.38 98.55 377.35 92.85 378.30 88.10 C379.25 83.35 380.25 77.67 381.20 72.90 C382.15 68.13 383.27 62.20 384.00 59.50 C384.73 56.80 385.02 56.53 385.60 56.70 C386.18 56.87 386.80 58.60 387.50 60.50 C388.20 62.40 389.10 66.20 389.80 68.10 C390.50 70.00 391.07 71.35 391.70 71.90 C392.33 72.45 392.98 71.23 393.60 71.40 C394.22 71.57 394.82 71.82 395.40 72.90 C395.98 73.98 396.45 75.88 397.10 77.90 C397.75 79.92 398.58 82.63 399.30 85.00 C400.02 87.37 400.68 89.85 401.40 92.10 C402.12 94.35 402.85 96.17 403.60 98.50 C404.35 100.83 405.07 103.35 405.90 106.10 C406.73 108.85 407.71 112.47 408.60 115.00 C409.49 117.53 410.60 120.00 411.25 121.25 C411.90 122.50 411.91 122.64 412.50 122.50 C413.09 122.36 413.97 122.25 414.80 120.40 C415.63 118.55 416.60 114.68 417.50 111.40 C418.40 108.12 419.37 104.10 420.20 100.70 C421.03 97.30 421.82 93.62 422.50 91.00 C423.18 88.38 423.65 87.43 424.30 85.00 C424.95 82.57 425.68 78.30 426.40 76.40 C427.12 74.50 427.88 74.32 428.60 73.60 C429.32 72.88 429.98 73.05 430.70 72.10 C431.42 71.15 432.18 69.50 432.90 67.90 C433.62 66.30 434.35 63.70 435.00 62.50 C435.65 61.30 436.20 60.63 436.80 60.70 C437.40 60.77 437.95 61.95 438.60 62.90 C439.25 63.85 439.98 65.45 440.70 66.40 C441.42 67.35 442.18 67.88 442.90 68.60 C443.62 69.32 444.17 69.98 445.00 70.70 C445.83 71.42 446.95 72.30 447.90 72.90 C448.85 73.50 449.75 73.95 450.70 74.30 C451.65 74.65 452.65 75.00 453.60 75.00 C454.55 75.00 455.45 74.78 456.40 74.30 C457.35 73.82 458.35 72.82 459.30 72.10 C460.25 71.38 461.15 70.70 462.10 70.00 C463.05 69.30 464.03 68.85 465.00 67.90 C465.97 66.95 466.95 65.50 467.90 64.30 C468.85 63.10 469.75 61.77 470.70 60.70 C471.65 59.63 472.77 58.85 473.60 57.90 C474.43 56.95 474.98 56.32 475.70 55.00 C476.42 53.68 477.07 51.55 477.90 50.00 C478.73 48.45 479.75 46.77 480.70 45.70 C481.65 44.63 482.80 44.10 483.60 43.60 C484.40 43.10 484.85 42.67 485.50 42.70 C486.15 42.73 486.87 43.30 487.50 43.80 C488.13 44.30 488.65 45.15 489.30 45.70 C489.95 46.25 490.68 46.82 491.40 47.10 C492.12 47.38 492.88 47.15 493.60 47.40 C494.32 47.65 494.98 47.93 495.70 48.60 C496.42 49.27 497.18 50.45 497.90 51.40 C498.62 52.35 499.30 53.35 500.00 54.30 C500.70 55.25 501.38 56.15 502.10 57.10 C502.82 58.05 503.58 59.17 504.30 60.00 C505.02 60.83 505.68 61.50 506.40 62.10 C507.12 62.70 507.88 63.60 508.60 63.60 C509.32 63.60 509.87 62.58 510.70 62.10 C511.53 61.62 512.65 60.77 513.60 60.70 C514.55 60.63 515.45 61.47 516.40 61.70 C517.35 61.93 518.35 62.20 519.30 62.10 C520.25 62.00 521.15 61.10 522.10 61.10 C523.05 61.10 524.03 61.85 525.00 62.10 C525.97 62.35 526.95 62.83 527.90 62.60 C528.85 62.37 529.75 60.95 530.70 60.70 C531.65 60.45 532.65 60.93 533.60 61.10 C534.55 61.27 535.57 61.70 536.40 61.70 C537.23 61.70 537.88 61.38 538.60 61.10 C539.32 60.82 540.35 60.18 540.70 60.00" stroke="#1a1aff" /></g>
<g fill="none" stroke-width="1.3" stroke-linejoin="round" stroke-linecap="round"><path d="M40.00 329.50 C40.45 330.08 41.80 332.12 42.70 333.00 C43.60 333.88 44.52 334.35 45.40 334.80 C46.28 335.25 47.12 335.40 48.00 335.70 C48.88 336.00 49.80 336.30 50.70 336.60 C51.60 336.90 52.50 337.65 53.40 337.50 C54.30 337.35 55.21 336.45 56.10 335.70 C56.99 334.95 57.87 333.53 58.75 333.00 C59.63 332.47 60.51 332.50 61.40 332.50 C62.29 332.50 63.20 333.07 64.10 333.00 C65.00 332.93 65.90 332.60 66.80 332.10 C67.70 331.60 68.62 330.53 69.50 330.00 C70.38 329.47 71.22 329.20 72.10 328.90 C72.98 328.60 73.90 328.40 74.80 328.20 C75.70 328.00 76.70 327.48 77.50 327.70 C78.30 327.92 78.85 327.87 79.60 329.50 C80.35 331.13 81.31 335.27 82.00 337.50 C82.69 339.73 83.25 341.72 83.75 342.90 C84.25 344.08 84.56 345.20 85.00 344.60 C85.44 344.00 85.87 341.67 86.40 339.30 C86.93 336.93 87.60 332.63 88.20 330.40 C88.80 328.17 89.40 326.50 90.00 325.90 C90.60 325.30 91.20 325.47 91.80 326.80 C92.40 328.13 93.00 331.52 93.60 333.90 C94.20 336.28 94.82 339.17 95.40 341.10 C95.98 343.03 96.37 344.55 97.10 345.50 C97.83 346.45 98.90 346.80 99.80 346.80 C100.70 346.80 101.60 346.60 102.50 345.50 C103.40 344.40 104.37 342.62 105.20 340.20 C106.03 337.78 106.82 334.20 107.50 331.00 C108.18 327.80 108.72 324.17 109.30 321.00 C109.88 317.83 110.45 314.83 111.00 312.00 C111.55 309.17 112.07 306.67 112.60 304.00 C113.13 301.33 113.67 298.13 114.20 296.00 C114.73 293.87 115.25 292.20 115.80 291.20 C116.35 290.20 116.88 289.83 117.50 290.00 C118.12 290.17 118.85 291.03 119.50 292.20 C120.15 293.37 120.78 295.18 121.40 297.00 C122.02 298.82 122.60 300.90 123.20 303.10 C123.80 305.30 124.40 308.02 125.00 310.20 C125.60 312.38 126.20 314.70 126.80 316.20 C127.40 317.70 128.00 318.80 128.60 319.20 C129.20 319.60 129.82 319.30 130.40 318.60 C130.98 317.90 131.52 316.78 132.10 315.00 C132.68 313.22 133.30 310.48 133.90 307.90 C134.50 305.32 135.10 302.23 135.70 299.50 C136.30 296.77 136.78 294.03 137.50 291.50 C138.22 288.97 139.10 286.10 140.00 284.30 C140.90 282.50 141.95 281.77 142.90 280.70 C143.85 279.63 144.87 278.50 145.70 277.90 C146.53 277.30 147.18 277.10 147.90 277.10 C148.62 277.10 149.30 277.42 150.00 277.90 C150.70 278.38 151.38 279.42 152.10 280.00 C152.82 280.58 153.58 280.80 154.30 281.40 C155.02 282.00 155.68 282.65 156.40 283.60 C157.12 284.55 157.88 285.92 158.60 287.10 C159.32 288.28 160.05 289.80 160.70 290.70 C161.35 291.60 161.90 291.78 162.50 292.50 C163.10 293.22 163.65 293.83 164.30 295.00 C164.95 296.17 165.68 297.92 166.40 299.50 C167.12 301.08 167.88 303.05 168.60 304.50 C169.32 305.95 169.87 307.17 170.70 308.20 C171.53 309.23 172.65 310.22 173.60 310.70 C174.55 311.18 175.45 310.98 176.40 311.10 C177.35 311.22 178.35 311.47 179.30 311.40 C180.25 311.33 181.15 310.93 182.10 310.70 C183.05 310.47 184.03 310.35 185.00 310.00 C185.97 309.65 187.07 309.15 187.90 308.60 C188.73 308.05 189.30 307.30 190.00 306.70 C190.70 306.10 191.38 305.17 192.10 305.00 C192.82 304.83 193.58 305.35 194.30 305.70 C195.02 306.05 195.68 306.50 196.40 307.10 C197.12 307.70 197.77 308.82 198.60 309.30 C199.43 309.78 200.45 310.12 201.40 310.00 C202.35 309.88 203.47 308.85 204.30 308.60 C205.13 308.35 205.68 308.18 206.40 308.50 C207.12 308.82 207.83 309.67 208.60 310.50 C209.37 311.33 210.18 312.72 211.00 313.50 C211.82 314.28 212.72 314.83 213.50 315.20 C214.28 315.57 214.85 315.25 215.70 315.70 C216.55 316.15 217.65 317.07 218.60 317.90 C219.55 318.73 220.45 320.12 221.40 320.70 C222.35 321.28 223.35 321.35 224.30 321.40 C225.25 321.45 226.15 320.92 227.10 321.00 C228.05 321.08 229.03 321.52 230.00 321.90 C230.97 322.28 231.95 322.97 232.90 323.30 C233.85 323.63 234.75 323.73 235.70 323.90 C236.65 324.07 237.77 324.00 238.60 324.30 C239.43 324.60 239.98 325.23 240.70 325.70 C241.42 326.17 242.18 327.33 242.90 327.10 C243.62 326.87 244.30 325.72 245.00 324.30 C245.70 322.88 246.38 319.97 247.10 318.60 C247.82 317.23 248.58 316.22 249.30 316.10 C250.02 315.98 250.68 317.18 251.40 317.90 C252.12 318.62 252.77 319.82 253.60 320.40 C254.43 320.98 255.17 321.12 256.40 321.40 C257.63 321.68 260.23 321.98 261.00 322.10" stroke="#f2f200" />
<path d="M40.00 318.75 C40.30 319.04 41.20 319.46 41.80 320.50 C42.40 321.54 42.86 322.92 43.60 325.00 C44.34 327.08 45.37 330.32 46.25 333.00 C47.13 335.68 48.01 338.85 48.90 341.10 C49.79 343.35 50.87 345.38 51.60 346.50 C52.33 347.62 52.70 348.13 53.30 347.80 C53.90 347.47 54.58 346.22 55.20 344.50 C55.82 342.78 56.41 339.27 57.00 337.50 C57.59 335.73 58.17 334.73 58.75 333.90 C59.33 333.07 59.76 332.55 60.50 332.50 C61.24 332.45 62.30 333.52 63.20 333.60 C64.10 333.68 65.00 332.80 65.90 333.00 C66.80 333.20 67.71 333.90 68.60 334.80 C69.49 335.70 70.37 337.12 71.25 338.40 C72.13 339.68 73.01 341.61 73.90 342.50 C74.79 343.39 75.70 343.75 76.60 343.75 C77.50 343.75 78.40 342.64 79.30 342.50 C80.20 342.36 81.17 343.13 82.00 342.90 C82.83 342.67 83.62 342.60 84.30 341.10 C84.98 339.60 85.60 336.88 86.10 333.90 C86.60 330.92 86.95 327.07 87.30 323.20 C87.65 319.33 87.87 314.90 88.20 310.70 C88.53 306.50 88.92 301.28 89.30 298.00 C89.68 294.72 90.10 292.53 90.50 291.00 C90.90 289.47 91.32 288.80 91.70 288.80 C92.08 288.80 92.48 289.85 92.80 291.00 C93.12 292.15 93.32 293.53 93.60 295.70 C93.88 297.87 94.06 301.20 94.50 304.00 C94.94 306.80 95.67 310.50 96.25 312.50 C96.83 314.50 97.41 314.75 98.00 316.00 C98.59 317.25 99.17 318.98 99.80 320.00 C100.43 321.02 101.17 320.35 101.80 322.10 C102.43 323.85 103.00 327.85 103.60 330.50 C104.20 333.15 104.93 336.00 105.40 338.00 C105.87 340.00 105.98 342.13 106.40 342.50 C106.82 342.87 107.37 341.93 107.90 340.20 C108.43 338.47 109.02 335.23 109.60 332.10 C110.18 328.97 110.75 325.08 111.40 321.40 C112.05 317.72 112.90 313.57 113.50 310.00 C114.10 306.43 114.50 303.00 115.00 300.00 C115.50 297.00 116.00 295.00 116.50 292.00 C117.00 289.00 117.50 284.33 118.00 282.00 C118.50 279.67 118.93 278.45 119.50 278.00 C120.07 277.55 120.72 278.85 121.40 279.30 C122.08 279.75 122.88 280.58 123.60 280.70 C124.32 280.82 124.98 280.23 125.70 280.00 C126.42 279.77 127.23 279.18 127.90 279.30 C128.57 279.42 129.12 280.23 129.70 280.70 C130.28 281.17 130.83 282.45 131.40 282.10 C131.97 281.75 132.50 280.85 133.10 278.60 C133.70 276.35 134.33 271.93 135.00 268.60 C135.67 265.27 136.38 261.10 137.10 258.60 C137.82 256.10 138.58 254.92 139.30 253.60 C140.02 252.28 140.68 251.48 141.40 250.70 C142.12 249.92 142.88 249.13 143.60 248.90 C144.32 248.67 144.98 248.88 145.70 249.30 C146.42 249.72 147.18 250.57 147.90 251.40 C148.62 252.23 149.30 253.38 150.00 254.30 C150.70 255.22 151.38 256.30 152.10 256.90 C152.82 257.50 153.58 257.50 154.30 257.90 C155.02 258.30 155.68 258.47 156.40 259.30 C157.12 260.13 157.88 261.47 158.60 262.90 C159.32 264.33 159.98 266.60 160.70 267.90 C161.42 269.20 162.18 269.87 162.90 270.70 C163.62 271.53 164.30 272.07 165.00 272.90 C165.70 273.73 166.38 274.52 167.10 275.70 C167.82 276.88 168.58 278.57 169.30 280.00 C170.02 281.43 170.68 283.05 171.40 284.30 C172.12 285.55 172.77 287.15 173.60 287.50 C174.43 287.85 175.57 286.10 176.40 286.40 C177.23 286.70 177.88 288.10 178.60 289.30 C179.32 290.50 179.98 292.40 180.70 293.60 C181.42 294.80 182.18 295.77 182.90 296.50 C183.62 297.23 184.15 297.67 185.00 298.00 C185.85 298.33 187.05 298.33 188.00 298.50 C188.95 298.67 189.77 298.87 190.70 299.00 C191.63 299.13 192.65 299.62 193.60 299.30 C194.55 298.98 195.45 297.82 196.40 297.10 C197.35 296.38 198.35 295.47 199.30 295.00 C200.25 294.53 201.27 294.18 202.10 294.30 C202.93 294.42 203.58 294.98 204.30 295.70 C205.02 296.42 205.68 297.40 206.40 298.60 C207.12 299.80 207.88 301.95 208.60 302.90 C209.32 303.85 209.87 304.30 210.70 304.30 C211.53 304.30 212.65 303.50 213.60 302.90 C214.55 302.30 215.57 301.07 216.40 300.70 C217.23 300.33 217.88 301.05 218.60 300.70 C219.32 300.35 219.98 299.37 220.70 298.60 C221.42 297.83 222.18 295.98 222.90 296.10 C223.62 296.22 224.30 297.93 225.00 299.30 C225.70 300.67 226.38 303.12 227.10 304.30 C227.82 305.48 228.58 306.40 229.30 306.40 C230.02 306.40 230.68 304.88 231.40 304.30 C232.12 303.72 232.88 302.78 233.60 302.90 C234.32 303.02 234.98 303.93 235.70 305.00 C236.42 306.07 237.07 308.47 237.90 309.30 C238.73 310.13 239.75 310.12 240.70 310.00 C241.65 309.88 242.65 309.15 243.60 308.60 C244.55 308.05 245.57 306.87 246.40 306.70 C247.23 306.53 247.88 307.05 248.60 307.60 C249.32 308.15 249.87 309.53 250.70 310.00 C251.53 310.47 252.65 310.40 253.60 310.40 C254.55 310.40 255.57 309.83 256.40 310.00 C257.23 310.17 257.83 310.73 258.60 311.40 C259.37 312.07 260.60 313.57 261.00 314.00" stroke="#ff1a1a" />
<path d="M40.00 325.90 C40.45 326.79 41.80 329.77 42.70 331.25 C43.60 332.73 44.52 333.91 45.40 334.80 C46.28 335.69 47.12 336.08 48.00 336.60 C48.88 337.12 49.80 337.60 50.70 337.90 C51.60 338.20 52.50 338.47 53.40 338.40 C54.30 338.33 55.21 337.95 56.10 337.50 C56.99 337.05 57.87 335.77 58.75 335.70 C59.63 335.63 60.51 336.50 61.40 337.10 C62.29 337.70 63.20 338.88 64.10 339.30 C65.00 339.72 65.90 339.90 66.80 339.60 C67.70 339.30 68.62 337.70 69.50 337.50 C70.38 337.30 71.30 337.65 72.10 338.40 C72.90 339.15 73.55 341.25 74.30 342.00 C75.05 342.75 75.83 342.90 76.60 342.90 C77.37 342.90 78.15 343.05 78.90 342.00 C79.65 340.95 80.43 338.10 81.10 336.60 C81.77 335.10 82.25 333.60 82.90 333.00 C83.55 332.40 84.42 334.33 85.00 333.00 C85.58 331.67 86.02 328.12 86.40 325.00 C86.78 321.88 87.00 317.80 87.30 314.30 C87.60 310.80 87.83 307.22 88.20 304.00 C88.57 300.78 89.10 297.33 89.50 295.00 C89.90 292.67 90.23 291.07 90.60 290.00 C90.97 288.93 91.33 288.43 91.70 288.60 C92.07 288.77 92.48 289.82 92.80 291.00 C93.12 292.18 93.32 293.60 93.60 295.70 C93.88 297.80 94.06 300.50 94.50 303.60 C94.94 306.70 95.67 311.33 96.25 314.30 C96.83 317.27 97.33 319.32 98.00 321.40 C98.67 323.48 99.57 325.08 100.30 326.80 C101.03 328.52 101.70 330.33 102.40 331.70 C103.10 333.07 103.90 334.45 104.50 335.00 C105.10 335.55 105.50 335.50 106.00 335.00 C106.50 334.50 107.04 333.67 107.50 332.00 C107.96 330.33 108.25 327.95 108.75 325.00 C109.25 322.05 109.91 317.87 110.50 314.30 C111.09 310.73 111.72 306.98 112.30 303.60 C112.88 300.22 113.47 297.10 114.00 294.00 C114.53 290.90 115.00 287.58 115.50 285.00 C116.00 282.42 116.50 280.00 117.00 278.50 C117.50 277.00 118.08 276.47 118.50 276.00 C118.92 275.53 119.13 275.52 119.50 275.70 C119.87 275.88 120.27 276.27 120.70 277.10 C121.13 277.93 121.62 279.78 122.10 280.70 C122.58 281.62 123.00 282.20 123.60 282.60 C124.20 283.00 124.98 283.10 125.70 283.10 C126.42 283.10 127.18 282.60 127.90 282.60 C128.62 282.60 129.42 283.45 130.00 283.10 C130.58 282.75 130.92 282.08 131.40 280.50 C131.88 278.92 132.42 276.30 132.90 273.60 C133.38 270.90 133.83 267.05 134.30 264.30 C134.77 261.55 135.23 259.32 135.70 257.10 C136.17 254.88 136.50 252.67 137.10 251.00 C137.70 249.33 138.58 247.98 139.30 247.10 C140.02 246.22 140.57 245.93 141.40 245.70 C142.23 245.47 143.35 245.58 144.30 245.70 C145.25 245.82 146.15 245.92 147.10 246.40 C148.05 246.88 149.03 247.88 150.00 248.60 C150.97 249.32 151.95 250.47 152.90 250.70 C153.85 250.93 154.87 249.88 155.70 250.00 C156.53 250.12 157.30 250.68 157.90 251.40 C158.50 252.12 158.83 252.87 159.30 254.30 C159.77 255.73 160.23 258.10 160.70 260.00 C161.17 261.90 161.50 264.03 162.10 265.70 C162.70 267.37 163.58 269.00 164.30 270.00 C165.02 271.00 165.68 270.87 166.40 271.70 C167.12 272.53 168.00 273.73 168.60 275.00 C169.20 276.27 169.42 277.63 170.00 279.30 C170.58 280.97 171.38 283.70 172.10 285.00 C172.82 286.30 173.47 286.98 174.30 287.10 C175.13 287.22 176.15 286.00 177.10 285.70 C178.05 285.40 179.03 285.07 180.00 285.30 C180.97 285.53 182.07 286.20 182.90 287.10 C183.73 288.00 184.30 289.50 185.00 290.70 C185.70 291.90 186.38 293.58 187.10 294.30 C187.82 295.02 188.58 295.23 189.30 295.00 C190.02 294.77 190.57 293.62 191.40 292.90 C192.23 292.18 193.35 291.18 194.30 290.70 C195.25 290.22 196.27 290.35 197.10 290.00 C197.93 289.65 198.58 289.00 199.30 288.60 C200.02 288.20 200.68 287.48 201.40 287.60 C202.12 287.72 202.88 288.57 203.60 289.30 C204.32 290.03 204.98 291.38 205.70 292.00 C206.42 292.62 207.07 292.93 207.90 293.00 C208.73 293.07 209.75 292.30 210.70 292.40 C211.65 292.50 212.65 293.28 213.60 293.60 C214.55 293.92 215.45 294.30 216.40 294.30 C217.35 294.30 218.35 293.37 219.30 293.60 C220.25 293.83 221.15 295.12 222.10 295.70 C223.05 296.28 224.03 296.87 225.00 297.10 C225.97 297.33 226.95 296.85 227.90 297.10 C228.85 297.35 229.75 298.05 230.70 298.60 C231.65 299.15 232.65 300.00 233.60 300.40 C234.55 300.80 235.45 301.00 236.40 301.00 C237.35 301.00 238.35 300.63 239.30 300.40 C240.25 300.17 241.15 299.50 242.10 299.60 C243.05 299.70 244.03 300.45 245.00 301.00 C245.97 301.55 246.95 302.83 247.90 302.90 C248.85 302.97 249.75 301.40 250.70 301.40 C251.65 301.40 252.65 302.25 253.60 302.90 C254.55 303.55 255.57 304.77 256.40 305.30 C257.23 305.83 257.83 306.23 258.60 306.10 C259.37 305.97 260.60 304.77 261.00 304.50" stroke="#12ee12" />
<path d="M40.00 328.60 C40.35 329.18 41.35 331.15 42.10 332.10 C42.85 333.05 43.67 333.85 44.50 334.30 C45.33 334.75 46.22 334.87 47.10 334.80 C47.98 334.73 48.90 334.10 49.80 333.90 C50.70 333.70 51.60 333.45 52.50 333.60 C53.40 333.75 54.30 334.22 55.20 334.80 C56.10 335.38 57.02 336.42 57.90 337.10 C58.78 337.78 59.62 338.77 60.50 338.90 C61.38 339.03 62.30 338.43 63.20 337.90 C64.10 337.37 65.00 336.22 65.90 335.70 C66.80 335.18 67.71 334.80 68.60 334.80 C69.49 334.80 70.37 335.70 71.25 335.70 C72.13 335.70 73.01 335.54 73.90 334.80 C74.79 334.06 75.85 332.28 76.60 331.25 C77.35 330.22 77.80 328.81 78.40 328.60 C79.00 328.39 79.60 328.82 80.20 330.00 C80.80 331.18 81.38 333.70 82.00 335.70 C82.62 337.70 83.30 341.28 83.90 342.00 C84.50 342.72 85.03 341.35 85.60 340.00 C86.17 338.65 86.72 335.65 87.30 333.90 C87.88 332.15 88.50 330.45 89.10 329.50 C89.70 328.55 90.30 327.91 90.90 328.20 C91.50 328.49 92.10 330.00 92.70 331.25 C93.30 332.50 93.82 334.06 94.50 335.70 C95.18 337.34 96.07 339.37 96.80 341.10 C97.53 342.83 98.10 344.62 98.90 346.10 C99.70 347.58 100.77 349.05 101.60 350.00 C102.43 350.95 103.15 351.65 103.90 351.80 C104.65 351.95 105.43 351.65 106.10 350.90 C106.77 350.15 107.25 349.08 107.90 347.30 C108.55 345.52 109.35 343.02 110.00 340.20 C110.65 337.38 111.20 333.83 111.80 330.40 C112.40 326.97 113.03 323.00 113.60 319.60 C114.17 316.20 114.68 312.43 115.20 310.00 C115.72 307.57 116.15 306.17 116.70 305.00 C117.25 303.83 117.92 303.02 118.50 303.00 C119.08 302.98 119.62 303.90 120.20 304.90 C120.78 305.90 121.40 307.52 122.00 309.00 C122.60 310.48 123.20 312.20 123.80 313.80 C124.40 315.40 125.00 317.32 125.60 318.60 C126.20 319.88 126.80 320.87 127.40 321.50 C128.00 322.13 128.60 322.40 129.20 322.40 C129.80 322.40 130.42 322.33 131.00 321.50 C131.58 320.67 132.12 319.48 132.70 317.40 C133.28 315.32 133.95 311.90 134.50 309.00 C135.05 306.10 135.57 303.17 136.00 300.00 C136.43 296.83 136.67 293.10 137.10 290.00 C137.53 286.90 138.00 284.25 138.60 281.40 C139.20 278.55 139.98 275.52 140.70 272.90 C141.42 270.28 142.18 267.85 142.90 265.70 C143.62 263.55 144.33 261.67 145.00 260.00 C145.67 258.33 146.35 256.65 146.90 255.70 C147.45 254.75 147.78 254.18 148.30 254.30 C148.82 254.42 149.43 255.45 150.00 256.40 C150.57 257.35 151.18 259.05 151.70 260.00 C152.22 260.95 152.55 261.98 153.10 262.10 C153.65 262.22 154.37 261.00 155.00 260.70 C155.63 260.40 156.30 259.93 156.90 260.30 C157.50 260.67 157.97 261.77 158.60 262.90 C159.23 264.03 159.98 265.92 160.70 267.10 C161.42 268.28 162.18 269.17 162.90 270.00 C163.62 270.83 164.30 271.18 165.00 272.10 C165.70 273.02 166.38 274.07 167.10 275.50 C167.82 276.93 168.58 279.00 169.30 280.70 C170.02 282.40 170.57 284.27 171.40 285.70 C172.23 287.13 173.35 288.35 174.30 289.30 C175.25 290.25 176.15 290.57 177.10 291.40 C178.05 292.23 179.03 293.27 180.00 294.30 C180.97 295.33 182.07 296.97 182.90 297.60 C183.73 298.23 184.30 298.42 185.00 298.10 C185.70 297.78 186.38 296.57 187.10 295.70 C187.82 294.83 188.58 293.62 189.30 292.90 C190.02 292.18 190.68 291.40 191.40 291.40 C192.12 291.40 192.88 292.18 193.60 292.90 C194.32 293.62 194.98 294.87 195.70 295.70 C196.42 296.53 197.07 297.50 197.90 297.90 C198.73 298.30 199.75 298.23 200.70 298.10 C201.65 297.97 202.80 297.45 203.60 297.10 C204.40 296.75 204.92 296.35 205.50 296.00 C206.08 295.65 206.47 295.33 207.10 295.00 C207.73 294.67 208.58 293.88 209.30 294.00 C210.02 294.12 210.68 294.70 211.40 295.70 C212.12 296.70 212.88 298.57 213.60 300.00 C214.32 301.43 214.87 303.12 215.70 304.30 C216.53 305.48 217.65 306.27 218.60 307.10 C219.55 307.93 220.45 308.58 221.40 309.30 C222.35 310.02 223.35 310.68 224.30 311.40 C225.25 312.12 226.15 312.88 227.10 313.60 C228.05 314.32 229.17 315.07 230.00 315.70 C230.83 316.33 231.38 317.17 232.10 317.40 C232.82 317.63 233.47 317.27 234.30 317.10 C235.13 316.93 236.15 316.47 237.10 316.40 C238.05 316.33 239.03 316.70 240.00 316.70 C240.97 316.70 241.95 316.63 242.90 316.40 C243.85 316.17 244.75 315.48 245.70 315.30 C246.65 315.12 247.65 315.23 248.60 315.30 C249.55 315.37 250.45 315.75 251.40 315.70 C252.35 315.65 253.35 314.88 254.30 315.00 C255.25 315.12 255.98 315.82 257.10 316.40 C258.22 316.98 260.35 318.15 261.00 318.50" stroke="#1a1aff" /></g>
<text x="150.8" y="18.5" text-anchor="middle" class="ti">FZ</text>
<text x="430.5" y="18.5" text-anchor="middle" class="ti">CZ</text>
<text x="150.8" y="221.1" text-anchor="middle" class="ti">PZ</text>
<text x="151" y="210.3" text-anchor="middle" class="al" style="font-size:9.5px">Time (ms)</text>
<text x="430.5" y="210.3" text-anchor="middle" class="al" style="font-size:9.5px">Time (ms)</text>
<text x="151" y="413.3" text-anchor="middle" class="al" style="font-size:9.5px">Time (ms)</text>
<text transform="translate(26.9 105.3) rotate(-90)" text-anchor="middle" class="al" style="font-size:9.3px">Amplitude (<tspan font-style="italic">μ</tspan> V)</text>
<text transform="translate(306.7 105.3) rotate(-90)" text-anchor="middle" class="al" style="font-size:9.3px">Amplitude (<tspan font-style="italic">μ</tspan> V)</text>
<text transform="translate(26.9 308.1) rotate(-90)" text-anchor="middle" class="al" style="font-size:9.3px">Amplitude (<tspan font-style="italic">μ</tspan> V)</text>
<text x="8.3" y="18.4" class="pl">(a)</text>
<text x="286.6" y="19.1" class="pl">(b)</text>
<text x="8.3" y="223.5" class="pl">(c)</text>
<rect x="328.7" y="269.8" width="24.6" height="1.2" fill="#ff1a1a"/>
<text x="358.3" y="275.3" class="lg">Neg<tspan class="hy">-</tspan>phy<tspan class="hy">-</tspan>self<tspan class="hy">-</tspan>immediate (NPSI)</text>
<rect x="328.7" y="284.7" width="24.6" height="1.2" fill="#12ee12"/>
<text x="358.3" y="289.5" class="lg">Neg<tspan class="hy">-</tspan>phy<tspan class="hy">-</tspan>self<tspan class="hy">-</tspan>delayed (NPSD)</text>
<rect x="328.7" y="297.4" width="24.6" height="1.2" fill="#f2f200"/>
<text x="358.3" y="303.7" class="lg">Control<tspan class="hy">-</tspan>immediate (CI)</text>
<rect x="328.7" y="311.8" width="24.6" height="1.2" fill="#1a1aff"/>
<text x="358.3" y="317.7" class="lg">Control<tspan class="hy">-</tspan>delayed (CD)</text>
</svg>
</body></html>
